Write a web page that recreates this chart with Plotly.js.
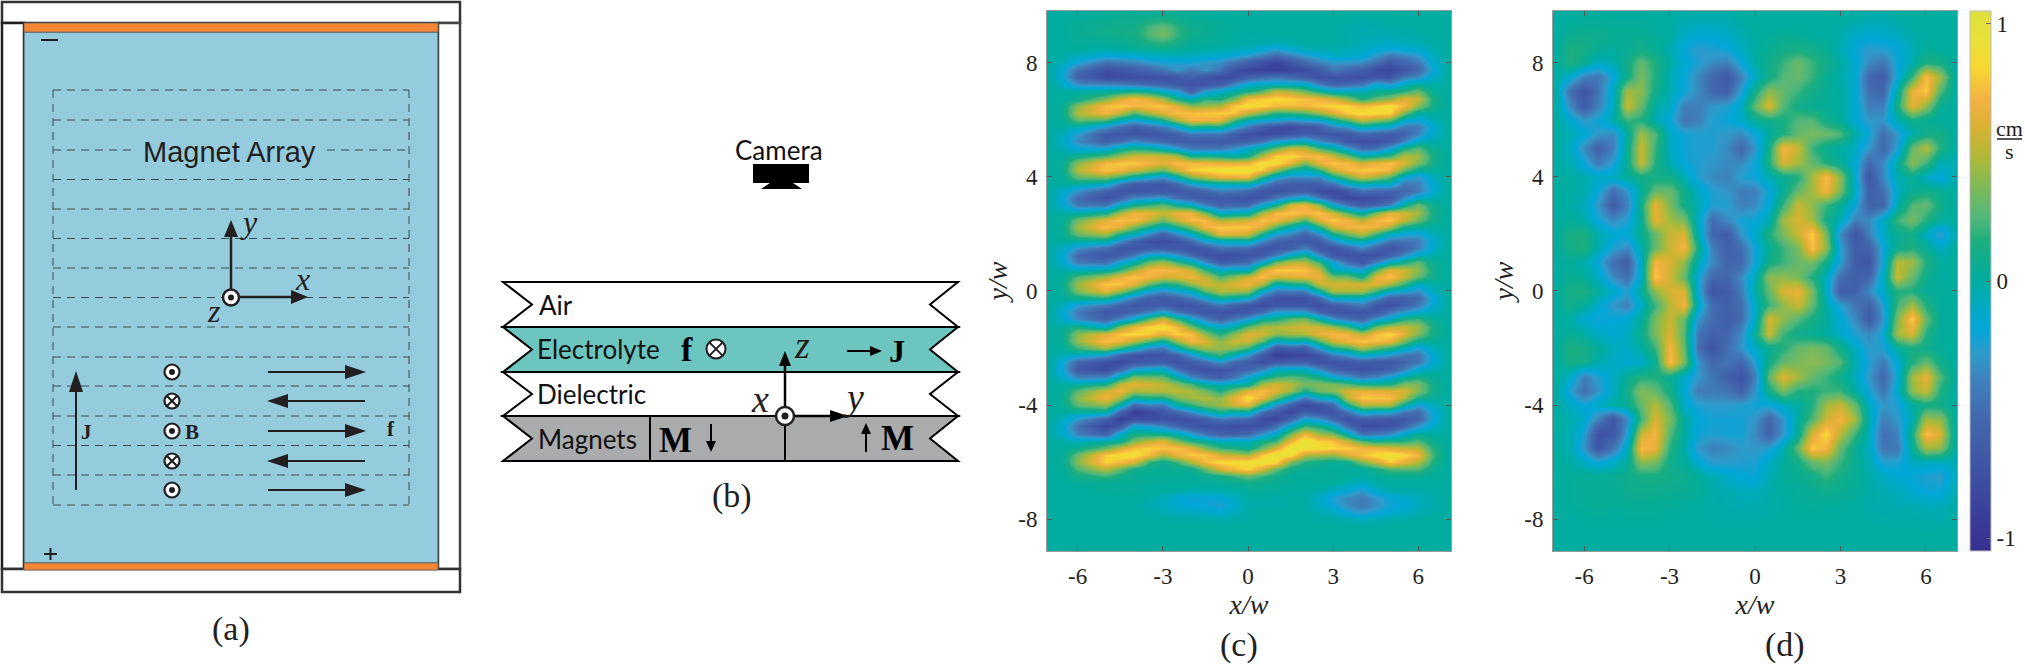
<!DOCTYPE html>
<html><head><meta charset="utf-8">
<script src="https://cdn.plot.ly/plotly-3.0.1.min.js"></script>
<style>html,body{margin:0;padding:0;background:#fff}#p{width:2025px;height:667px}</style></head>
<body><div id="p"></div>
<script>
// ---- panel (c): x stations and y rows, columns read top-to-bottom ----
const xC=[-7,-6.5,-6,-5,-4.5,-4,-3.5,-3,-2.5,-2,-1.5,-1,-.5,0,.5,1,1.5,2,2.5,3,3.5,4,4.5,5,5.5,6,6.5,7];
const yC=[9.75,9.5,9.25,9,8.75,8.5,8.25,8,7.75,7.5,7.25,7,6.75,6.5,6.25,6,5.75,5.5,5.25,5,4.75,4.5,4.25,4,3.75,3.5,3.25,3,2.75,2.5,2.25,2,1.75,1.5,1.25,1,.75,.5,.25,0,-.25,-.5,-.75,-1,-1.25,-1.5,-1.75,-2,-2.25,-2.5,-2.75,-3,-3.25,-3.5,-3.75,-4,-4.25,-4.5,-4.75,-5,-5.25,-5.5,-5.75,-6,-6.25,-6.5,-6.75,-7,-7.25,-7.5,-7.75,-8,-8.25,-8.5,-8.75,-9];
const colM70=[0,0,0,0, 0,0,0,0, 0,0,0,0, 0,0,0,0, 0,0,0,0, 0,0,0,0, 0,0,0,0, 0,0,0,0, 0,0,0,0, 0,0,0,0, 0,0,0,0, 0,0,0,0, 0,0,0,0, 0,0,0,0, 0,0,0,0, 0,0,0,0, 0,0,0,0, 0,0,0,0, 0,0,0,0];
const colM65=[0,.01,.01,.01, .01,0,-.02,-.08, -.18,-.2,-.1,0, .01,.05,.06,.03, 0,-.08,-.1,-.06, .01,.05,.06,.03, 0,-.12,-.2,-.15, 0,.04,.05,.04, 0,-.1,-.18,-.15, -.02,.03,.05,.04, .01,-.08,-.15,-.12, .02,.05,.05,.02, -.05,-.2,-.22,-.13, 0,.03,.05,.03, 0,-.08,-.15,-.12, -.02,.01,.03,.04, .02,.01,0,0, 0,0,0,0, 0,0,0,0];
const colM60=[.02,.03,.05,.05, .03,0,-.08,-.25, -.49,-.59,-.35,0, .08,.4,.49,.29, -.05,-.28,-.35,-.2, .08,.4,.5,.3, 0,-.32,-.54,-.44, 0,.32,.45,.32, 0,-.32,-.54,-.44, -.07,.26,.45,.36, .07,-.26,-.44,-.36, .14,.4,.43,.2, -.11,-.57,-.69,-.41, 0,.28,.4,.28, 0,-.29,-.5,-.4, -.08,.06,.32,.4, .24,.1,.03,0, 0,0,0,0, 0,0,0,0];
const colM50=[.03,.05,.08,.08, .03,-.03,-.2,-.5, -.76,-.81,-.38,0, .36,.76,.71,.25, -.32,-.66,-.62,-.22, .25,.73,.78,.37, -.12,-.6,-.74,-.44, .12,.63,.77,.46, 0,-.5,-.72,-.5, 0,.47,.79,.65, .13,-.41,-.69,-.57, -.11,.63,.77,.46, -.26,-.76,-.81,-.38, .11,.57,.69,.41, 0,-.6,-.85,-.6, 0,.3,.8,.83, .5,.2,.03,.03, 0,0,0,0, 0,0,0,0];
const colM45=[.04,.07,.1,.1, .05,0,-.18,-.45, -.71,-.8,-.42,.05, .6,.8,.52,-.05, -.51,-.72,-.51,0, .42,.79,.7,.2, -.44,-.74,-.6,-.12, .46,.77,.63,.12, -.33,-.7,-.65,-.2, .18,.68,.78,.43, -.16,-.59,-.68,-.37, .4,.79,.71,.2, -.58,-.82,-.58,0, .51,.68,.44,0, -.6,-.9,-.68,-.1, .05,.55,.89,.73, .3,.1,.03,.02, 0,0,0,0, 0,0,0,0];
const colM40=[.05,.08,.1,.12, .08,.02,-.15,-.4, -.65,-.79,-.46,.1, .74,.7,.25,-.2, -.65,-.71,-.35,.1, .57,.8,.57,0, -.66,-.71,-.35,.1, .69,.75,.35,-.05, -.6,-.74,-.44,0, .47,.78,.65,.12, -.42,-.69,-.57,-.1, .68,.84,.5,-.05, -.74,-.7,-.25,.35, .65,.46,.02,-.55, -.94,-.77,-.15,.1, .35,.75,.9,.6, .1,.05,.03,.03, 0,0,0,0, 0,0,0,0];
const colM35=[.05,.12,.22,.25, .15,.04,-.12,-.32, -.55,-.78,-.55,.05, .63,.77,.46,-.08, -.54,-.72,-.47,.05, .58,.71,.43,-.15, -.68,-.69,-.3,.2, .66,.54,.1,-.35, -.76,-.65,-.15,.3, .72,.72,.3,-.2, -.6,-.7,-.4,.3, .84,.8,.27,-.35, -.75,-.65,-.17,.33, .59,.49,.1,-.4, -.83,-.78,-.25,.1, .53,.82,.73,.2, .05,.03,.02,0, -.03,-.05,-.02,0, 0,0,0,0];
const colM30=[.05,.15,.3,.35, .2,.05,-.08,-.25, -.45,-.74,-.6,-.12, .45,.77,.62,.12, -.42,-.69,-.55,-.1, .57,.62,.3,-.3, -.71,-.67,-.25,.3, .54,.33,-.1,-.62, -.79,-.64,-.15,.45, .74,.58,.1,-.35, -.68,-.64,-.2,.6, .9,.64,.05,-.45, -.74,-.6,-.12,.3, .53,.49,.1,-.45, -.71,-.76,-.36,.08, .63,.77,.45,.05, .04,.03,.02,0, -.08,-.1,-.05,0, 0,0,0,0];
const colM25=[.04,.1,.18,.2, .12,.03,-.08,-.25, -.3,-.7,-.69,-.27, .13,.63,.77,.45, -.22,-.6,-.64,-.28, .49,.75,.56,0, -.54,-.72,-.48,.08, .67,.55,.1,-.35, -.74,-.69,-.3,.2, .7,.6,.16,-.2, -.59,-.73,-.45,.2, .74,.82,.43,-.05, -.6,-.75,-.5,0, .39,.52,.34,0, -.55,-.79,-.56,0, .35,.77,.68,.2, .05,.03,.02,-.02, -.15,-.14,-.08,-.02, 0,0,0,0];
const colM20=[.03,.05,.08,.08, .03,0,-.08,-.25, -.45,-.6,-.74,-.6, -.05,.4,.75,.7, .1,-.45,-.65,-.45, .1,.73,.8,.35, -.25,-.66,-.62,-.05, .69,.75,.35,-.1, -.53,-.75,-.53,0, .56,.69,.41,-.1, -.44,-.74,-.6,-.12, .35,.76,.71,.25, -.3,-.66,-.71,-.35, .23,.47,.44,.15, -.35,-.74,-.7,-.23, .15,.65,.79,.47, .05,.03,.02,-.05, -.22,-.18,-.1,-.02, 0,0,0,0];
const colM15=[.02,.04,.06,.06, .03,-.01,-.12,-.3, -.32,-.72,-.72,-.28, .18,.43,.78,.68, .03,-.46,-.65,-.46, .13,.7,.86,.5, -.1,-.57,-.69,-.41, .36,.75,.7,.2, -.22,-.69,-.74,-.35, .2,.55,.59,.28, -.2,-.63,-.73,-.4, .05,.4,.62,.44, 0,-.53,-.75,-.53, 0,.34,.48,.34, -.12,-.62,-.76,-.46, .05,.37,.78,.73, .3,.06,.02,-.04, -.2,-.2,-.12,-.02, 0,0,0,0];
const colM10=[0,.02,.03,.03, .02,-.02,-.15,-.35, -.47,-.79,-.65,-.13, .13,.49,.81,.66, .08,-.46,-.65,-.46, .1,.65,.92,.65, -.05,-.41,-.69,-.57, -.1,.47,.79,.65, -.12,-.47,-.79,-.65, -.1,.25,.52,.49, .07,-.44,-.74,-.6, -.12,.14,.4,.43, .2,-.3,-.71,-.66, -.1,.14,.4,.43, .1,-.44,-.74,-.6, -.1,.2,.6,.85, .6,.1,.03,-.05, -.2,-.25,-.15,-.03, 0,0,0,0];
const colM05=[0,.01,.01,0, 0,-.05,-.22,-.5, -.73,-.78,-.37,0, .34,.79,.78,.25, -.22,-.64,-.68,-.32, 0,.66,.94,.66, -.05,-.46,-.71,-.55, -.05,.51,.8,.61, -.06,-.5,-.77,-.6, -.05,.4,.62,.48, 0,-.6,-.74,-.44, 0,.39,.55,.39, -.07,-.54,-.7,-.45, -.03,.36,.66,.57, -.05,-.49,-.77,-.59, -.05,.13,.53,.88, .72,.2,.05,-.02, -.1,-.14,-.08,-.02, 0,0,0,0];
const colP00=[0,0,0,-.02, -.02,-.08,-.3,-.65, -.85,-.6,-.15,.1, .73,.89,.53,-.05, -.45,-.77,-.63,-.15, .1,.67,.95,.67, -.02,-.53,-.75,-.53, 0,.57,.8,.57, 0,-.53,-.75,-.53, -.1,.58,.71,.43, -.1,-.71,-.67,-.25, .3,.62,.58,.2, -.3,-.62,-.58,-.2, 0,.64,.9,.64, 0,-.55,-.78,-.55, -.1,.05,.45,.9, .85,.3,.08,.02, 0,-.03,-.02,0, 0,0,0,0];
const colP05=[0,0,0,-.01, -.03,-.15,-.42,-.77, -.87,-.52,-.1,.25, .81,.83,.34,-.15, -.66,-.81,-.48,.05, .48,.91,.8,.2, -.34,-.71,-.67,-.2, .46,.78,.64,.12, -.34,-.7,-.66,-.2, .58,.76,.5,-.1, -.58,-.78,-.52,.05, .47,.57,.3,-.2, -.68,-.78,-.41,.03, .45,.76,.67,.15, -.5,-.8,-.73,-.3, .1,.3,.79,.97, .6,.2,.06,.02, -.01,-.02,0,0, 0,0,0,0];
const colP10=[0,0,0,0, -.05,-.25,-.55,-.88, -.9,-.45,-.1,.52, .87,.71,.15,-.2, -.81,-.76,-.25,.28, .83,.88,.42,-.2, -.6,-.74,-.44,.1, .74,.69,.25,-.25, -.58,-.71,-.43,.3, .8,.56,-.05,-.42, -.76,-.71,-.25,.12, .49,.4,-.12,-.7, -.92,-.65,-.1,.2, .58,.62,.3,-.3, -.69,-.84,-.5,-.1, .2,.6,.99,.85, .3,.08,.05,.02, -.02,-.03,0,0, 0,0,0,0];
const colP15=[0,0,0,0, -.03,-.15,-.42,-.72, -.86,-.55,-.1,.45, .82,.72,.18,-.3, -.8,-.69,-.18,.55, .85,.65,.08,-.35, -.64,-.68,-.22,.6, .78,.51,-.05,-.38, -.69,-.6,-.1,.5, .79,.61,.08,-.42, -.77,-.71,-.25,.3, .54,.44,0,-.62, -.88,-.62,-.1,.27, .49,.42,-.1,-.65, -.85,-.55,-.1,.35, .7,.98,.89,.35, .08,.03,.02,0, 0,0,0,0, 0,0,0,0];
const colP20=[0,0,0,0, 0,-.05,-.3,-.55, -.8,-.65,-.12,.3, .76,.71,.25,-.2, -.77,-.62,-.1,.5, .74,.35,-.1,-.3, -.67,-.62,-.1,.7, .71,.25,-.25,-.57, -.69,-.41,.1,.5, .77,.63,.12,-.4, -.76,-.71,-.25,.35, .59,.48,-.1,-.65, -.85,-.6,-.1,.2, .35,.12,-.45,-.85, -.6,-.2,.2,.7, .97,.93,.5,.15, .05,.02,0,0, 0,0,0,0, 0,0,0,0];
const colP25=[0,0,0,0, 0,-.04,-.2,-.42, -.67,-.76,-.41,.1, .7,.79,.42,-.2, -.65,-.7,-.34,.2, .76,.66,.15,-.35, -.62,-.77,-.4,.4, .79,.64,.12,-.35, -.66,-.7,-.34,.2, .56,.68,.56,.05, -.55,-.78,-.55,.05, .58,.66,.25,-.25, -.71,-.76,-.36,.1, .37,.32,-.15,-.74, -.73,-.3,.1,.45, .82,.9,.45,.08, .03,.03,.02,-.03, -.12,-.1,-.04,-.01, 0,0,0,0];
const colP30=[0,0,0,0, 0,-.03,-.12,-.3, -.45,-.75,-.6,-.1, .6,.85,.6,.05, -.4,-.7,-.5,.05, .55,.78,.55,.05, -.5,-.84,-.67,-.15, .57,.8,.57,.1, -.35,-.74,-.7,-.2, -.05,.35,.59,.48, -.1,-.66,-.71,-.3, .45,.74,.57,.1, -.44,-.74,-.6,-.15, .35,.38,-.1,-.55, -.75,-.53,-.1,.35, .76,.83,.4,.05, .02,.03,.02,-.1, -.25,-.2,-.08,-.02, 0,0,0,0];
const colP35=[0,-.01,-.03,-.03, -.03,-.06,-.12,-.33, -.55,-.76,-.54,-.08, .4,.84,.8,.27, -.3,-.68,-.7,-.27, .33,.73,.73,.3, -.18,-.7,-.82,-.45, .28,.7,.7,.3, -.07,-.6,-.77,-.5, -.1,.35,.59,.48, -.1,-.57,-.74,-.47, .25,.72,.7,.2, -.3,-.7,-.7,-.28, .25,.6,.49,.08, -.5,-.78,-.52,0, .53,.82,.6,.06, .01,.01,-.04,-.18, -.36,-.34,-.2,-.05, 0,0,0,0];
const colP40=[0,-.02,-.05,-.05, -.05,-.1,-.15,-.35, -.63,-.77,-.46,-.05, .14,.73,.89,.53, -.05,-.55,-.78,-.55, .02,.57,.8,.57, -.03,-.48,-.81,-.65, 0,.51,.72,.51, -.03,-.35,-.74,-.7, -.2,.1,.59,.48, -.1,-.42,-.71,-.58, -.1,.5,.79,.47, -.1,-.63,-.77,-.46, .12,.65,.79,.47, -.1,-.65,-.79,-.5, .25,.7,.76,.35, 0,0,-.1,-.3, -.42,-.45,-.3,-.08, 0,0,0,0];
const colP45=[0,-.01,-.03,-.05, -.08,-.15,-.3,-.52, -.8,-.7,-.18,.03, .3,.82,.87,.4, -.12,-.6,-.74,-.5, .1,.68,.78,.43, -.1,-.55,-.77,-.55, .35,.72,.68,.2, -.2,-.6,-.75,-.4, .25,.65,.63,.2, -.3,-.7,-.69,-.28, .32,.76,.75,.3, -.2,-.67,-.71,-.35, .1,.64,.78,.47, -.18,-.68,-.78,-.42, .1,.67,.88,.56, .1,.02,-.02,-.12, -.3,-.33,-.22,-.05, 0,0,0,0];
const colP50=[0,0,-.02,-.05, -.1,-.2,-.45,-.7, -.84,-.7,-.3,.05, .4,.9,.85,.3, -.2,-.65,-.68,-.25, .2,.76,.71,.25, -.1,-.58,-.71,-.4, .65,.79,.47,-.1, -.45,-.74,-.6,-.1, .63,.77,.47,-.1, -.63,-.77,-.45,-.1, .5,.84,.69,.15, -.3,-.68,-.64,-.2, .12,.63,.77,.46, -.2,-.71,-.76,-.36, .15,.6,.94,.8, .25,.05,0,-.05, -.2,-.22,-.15,-.03, 0,0,0,0];
const colP55=[0,0,-.01,-.03, -.07,-.15,-.38,-.58, -.7,-.42,-.08,.15, .64,.73,.35,-.1, -.45,-.6,-.39,.1, .5,.61,.3,-.15, -.46,-.57,-.35,.05, .59,.55,.1,-.2, -.48,-.59,-.35,.1, .57,.53,.2,-.2, -.6,-.61,-.27,.15, .55,.63,.35,-.05, -.45,-.6,-.4,0, .35,.6,.48,.05, -.45,-.7,-.55,-.1, .15,.55,.85,.65, .25,.05,0,-.04, -.14,-.15,-.1,-.02, 0,0,0,0];
const colP60=[0,0,0,-.02, -.05,-.12,-.3,-.45, -.55,-.33,0,.3, .55,.39,0,-.2, -.44,-.36,-.1,.25, .44,.36,.05,-.3, -.4,-.43,-.1,.33, .45,.32,.02,-.25, -.43,-.4,-.1,.28, .4,.28,-.1,-.33, -.54,-.45,-.15,.2, .44,.36,.07,-.25, -.47,-.45,-.15,.12, .35,.38,.1,-.25, -.53,-.57,-.3,.02, .25,.5,.7,.5, .25,.05,0,-.03, -.08,-.08,-.05,0, 0,0,0,0];
const colP65=[0,0,0,0, -.02,-.04,-.08,-.15, -.2,-.12,-.02,.03, .12,.1,0,-.05, -.15,-.12,-.03,.06, .12,.1,.02,-.08, -.14,-.15,-.03,.08, .12,.08,0,-.06, -.14,-.12,-.03,.05, .1,.07,-.02,-.08, -.18,-.15,-.05,.04, .12,.1,.02,-.06, -.15,-.15,-.05,.03, .1,.1,.03,-.08, -.18,-.2,-.1,0, .06,.15,.22,.15, .06,.02,0,-.01, -.03,-.03,-.02,0, 0,0,0,0];
const colP70=[0,0,0,0, 0,0,0,0, 0,0,0,0, 0,0,0,0, 0,0,0,0, 0,0,0,0, 0,0,0,0, 0,0,0,0, 0,0,0,0, 0,0,0,0, 0,0,0,0, 0,0,0,0, 0,0,0,0, 0,0,0,0, 0,0,0,0, 0,0,0,0, 0,0,0,0, 0,0,0,0, 0,0,0,0];
const zC=[colM70,colM65,colM60,colM50,colM45,colM40,colM35,colM30,colM25,colM20,colM15,colM10,colM05,colP00,colP05,colP10,colP15,colP20,colP25,colP30,colP35,colP40,colP45,colP50,colP55,colP60,colP65,colP70];

// ---- panel (d): rows read left-to-right ----
const xD=[-7,-6.5,-6,-5.5,-5,-4.5,-4,-3.5,-3,-2.5,-2,-1.5,-1,-.5,0,.5,1,1.5,2,2.5,3,3.5,4,4.5,5,5.5,6,6.5,7];
const yD=[10,9.5,9,8.5,8,7.5,7,6.5,6,5.5,5,4.5,4,3.5,3,2.5,2,1.5,1,.5,0,-.5,-1,-1.5,-2,-2.5,-3,-3.5,-4,-4.5,-5,-5.5,-6,-6.5,-7,-7.5,-8,-8.5,-9,-9.5];
const zD=[
[0,0,0,0,0,0,0,0,0,0,0,0,0,0,0,0,0,0,0,0,0,0,0,0,0,0,0,0,0],
[0,0,.02,.02,.02,.02,.02,0,0,-.05,-.05,-.05,-.05,0,0,0,0,0,0,0,0,-.02,-.05,-.05,-.02,0,0,0,0],
[0,.05,.08,.08,.05,.05,.05,.02,0,-.1,-.15,-.15,-.1,-.05,0,.02,.03,.03,0,0,-.03,-.1,-.15,-.12,-.08,-.03,0,0,0],
[0,.15,.12,.05,.02,.05,.1,.05,-.05,-.2,-.28,-.25,-.2,-.1,0,.05,.1,.12,.1,.05,-.05,-.2,-.28,-.25,-.2,-.05,.03,0,0],
[0,.15,.05,-.1,-.05,.1,.3,.15,-.02,-.15,-.25,-.35,-.4,-.2,0,.1,.2,.32,.2,.1,0,-.15,-.35,-.45,-.2,-.05,.15,.12,0],
[0,-.15,-.4,-.45,-.2,.1,.35,.15,-.05,-.2,-.35,-.55,-.68,-.4,-.1,.1,.25,.3,.2,.05,-.02,-.15,-.55,-.62,-.2,.2,.75,.45,.02],
[0,-.5,-.72,-.45,-.1,.45,.4,.1,-.05,-.2,-.35,-.55,-.6,-.25,.1,.4,.3,.2,.1,.05,0,-.15,-.5,-.55,0,.65,.8,.25,0],
[0,-.35,-.65,-.4,-.1,.55,.3,0,-.1,-.4,-.4,-.3,-.25,-.1,.3,.6,.25,.1,.05,.03,0,-.15,-.4,-.4,.1,.65,.4,.05,0],
[0,-.15,-.3,-.2,-.02,.2,.15,-.03,-.2,-.45,-.4,-.25,-.2,-.12,.05,.1,.12,.25,.25,.1,.02,-.15,-.3,-.3,-.05,.1,.05,0,0],
[0,-.05,-.15,-.3,-.35,0,.45,.25,-.1,-.22,-.25,-.25,-.3,-.35,-.2,0,.15,.3,.35,.32,.25,-.02,-.2,-.5,-.3,-.03,.1,.12,0],
[0,-.1,-.35,-.6,-.4,.05,.55,.2,-.1,-.22,-.25,-.25,-.35,-.55,-.3,.1,.7,.55,.2,.05,0,-.1,-.3,-.55,-.25,.3,.5,.15,0],
[0,-.05,-.2,-.42,-.25,.05,.55,.15,-.05,-.2,-.25,-.3,-.35,-.35,-.2,.15,.6,.45,.3,.15,.05,-.15,-.55,-.35,0,.4,.2,-.05,-.05],
[0,0,-.03,-.1,-.08,.02,.1,.1,.1,-.05,-.25,-.35,-.4,-.25,-.2,-.05,.05,.15,.45,.75,.4,-.15,-.7,-.35,-.05,.05,-.1,-.2,-.05],
[0,0,-.03,-.2,-.5,-.3,.02,.3,.3,.1,-.1,-.25,-.3,-.42,-.4,-.2,.05,.3,.45,.7,.35,-.1,-.6,-.5,-.1,.05,.1,.05,0],
[0,-.02,-.08,-.3,-.65,-.4,.1,.65,.35,.1,-.05,-.25,-.25,-.4,-.35,-.15,.2,.55,.4,.2,.05,-.2,-.6,-.55,-.05,.25,.3,.1,0],
[0,.03,-.03,-.2,-.35,-.25,.05,.65,.45,.35,-.1,-.5,-.35,-.22,-.2,-.05,.45,.6,.45,.1,-.05,-.4,-.35,-.1,.2,.35,.15,.02,0],
[.02,.12,.15,-.03,-.15,-.15,.05,.3,.55,.6,-.05,-.55,-.65,-.3,-.12,.15,.35,.55,.8,.35,-.35,-.72,-.4,-.1,.05,.1,-.1,-.3,-.05],
[.02,.12,.15,-.03,-.25,-.35,-.02,.3,.55,.72,.1,-.4,-.62,-.5,-.2,.05,.2,.35,.75,.4,-.25,-.62,-.6,-.2,.08,.15,.05,-.1,0],
[0,.03,-.03,-.2,-.5,-.62,-.1,.7,.6,.4,-.05,-.35,-.55,-.55,-.2,.1,.2,.3,.35,.1,-.25,-.65,-.7,-.2,.5,.45,.15,.02,0],
[0,.05,.03,-.1,-.35,-.5,-.1,.8,.55,.3,-.2,-.55,-.55,-.35,-.05,.4,.4,.35,.15,-.08,-.5,-.62,-.55,-.1,.55,.3,.08,0,0],
[0,.12,.15,.02,-.12,-.25,.02,.4,.6,.6,-.2,-.7,-.65,-.4,0,.3,.6,.65,.35,-.1,-.65,-.6,-.35,-.1,.15,.15,.03,.02,0],
[0,.1,.03,-.12,-.3,-.4,-.1,.2,.5,.7,-.1,-.5,-.6,-.5,-.1,.2,.4,.55,.3,-.02,-.25,-.45,-.6,-.25,.2,.45,.15,.02,0],
[0,-.02,-.15,-.22,-.18,-.15,.02,.35,.55,.3,-.3,-.5,-.65,-.5,-.1,.6,.4,.25,.12,.02,-.15,-.35,-.65,-.3,.35,.8,.3,.03,0],
[0,.05,0,-.1,-.15,-.1,.08,.35,.6,.25,-.45,-.6,-.55,-.35,.05,.55,.2,.08,.05,0,-.12,-.25,-.35,-.2,.45,.6,.15,.02,0],
[0,.15,.12,.02,-.08,-.1,-.02,.2,.7,.3,-.5,-.72,-.5,-.3,-.1,.05,.15,.3,.35,.3,.1,-.1,-.28,-.25,.02,.12,.08,.03,0],
[0,.12,.1,-.03,-.1,-.15,-.12,.05,.75,.35,-.3,-.55,-.45,-.55,-.25,.1,.3,.35,.4,.35,.25,-.05,-.25,-.42,-.15,.15,.3,.1,0],
[0,-.1,-.4,-.25,-.1,.05,.15,.15,.05,-.12,-.3,-.45,-.6,-.75,-.4,.3,.62,.45,.3,.2,.08,-.08,-.3,-.55,-.2,.45,.65,.25,.02],
[0,-.25,-.5,-.3,-.1,.1,.38,.3,.1,-.15,-.42,-.42,-.45,-.6,-.3,.1,.35,.15,.15,.2,.2,0,-.22,-.45,-.15,.4,.55,.15,0],
[0,-.1,-.2,-.1,.0,.05,.3,.5,.25,-.12,-.25,-.28,-.28,-.25,-.22,-.2,-.1,0,.15,.45,.55,.3,-.1,-.3,-.25,0,.1,.1,0],
[0,-.03,-.12,-.4,-.7,-.35,.2,.6,.35,.02,-.18,-.22,-.22,-.22,-.3,-.55,-.3,0,.25,.55,.7,.45,-.05,-.4,-.3,-.05,.45,.4,.02],
[0,-.05,-.25,-.75,-.7,-.25,.55,.7,.25,0,-.2,-.25,-.22,-.22,-.35,-.6,-.3,.05,.6,.85,.5,.2,-.08,-.5,-.4,.1,.75,.6,.03],
[0,-.05,-.3,-.7,-.45,-.1,.75,.65,.15,-.02,-.3,-.4,-.35,-.28,-.3,-.25,-.05,.3,.8,.7,.3,.05,-.1,-.45,-.45,.05,.45,.4,.02],
[0,0,-.1,-.2,-.1,.02,.4,.35,.08,.03,-.15,-.28,-.28,-.25,-.25,-.1,.02,.1,.3,.35,.2,.05,-.05,-.25,-.25,-.1,-.08,-.1,-.05],
[0,.03,.05,.03,.05,.08,.12,.12,.1,.08,.03,-.05,-.12,-.18,-.2,-.05,.03,.05,.1,.2,.1,.05,-.02,-.1,-.15,-.2,-.25,-.28,-.1],
[0,.02,.05,.05,.05,.07,.08,.08,.06,.05,.03,-.02,-.05,-.08,-.08,-.03,0,.03,.05,.08,.06,.03,-.02,-.05,-.08,-.15,-.2,-.2,-.05],
[0,.02,.03,.05,.03,.04,.05,.04,.03,.02,0,-.02,-.03,-.05,-.05,-.02,0,.02,.03,.02,.02,0,-.03,-.03,-.05,-.05,-.08,-.08,-.02],
[0,0,.01,.02,.01,.02,.02,.02,.01,0,0,-.01,-.02,-.02,-.02,-.01,0,0,.01,0,0,0,-.01,-.02,-.02,-.02,-.03,-.03,0],
[0,0,0,0,0,0,0,0,0,0,0,0,0,0,0,0,0,0,0,0,0,0,0,0,0,0,0,0,0],
[0,0,0,0,0,0,0,0,0,0,0,0,0,0,0,0,0,0,0,0,0,0,0,0,0,0,0,0,0],
[0,0,0,0,0,0,0,0,0,0,0,0,0,0,0,0,0,0,0,0,0,0,0,0,0,0,0,0,0]];

const xTickVals=[-6,-3,0,3,6], xTickText=['-6','-3','0','3','6'];
const yTickVals=[-8,-4,0,4,8], yTickText=['-8','-4','0','4','8'];
const cbTickVals=[-1,0,1], cbTickText=['-1','0','1'];
// colour ramp: value, colour
const rampVals=[-1.05,-.887,-.718,-.535,-.394,-.282,-.183,-.085,0,.155,.239,.352,.479,.606,.704,.83,.944,1.05];
const rampCols=['#382F90','#3A419A','#3F55A5','#4268AE','#3F80BB','#2E9BCB','#00A7D8','#00ABBE','#00ADA0','#1DAE7D','#4EB67B','#79B95C','#AEB938','#DDB133','#F4B242','#F7D733','#E8E238','#DFE03C'];
const colorscale=rampVals.map((v,i)=>[(v+1.05)/2.1,rampCols[i]]);

const W=2025,H=667,SERIF='"Liberation Serif",serif',SANS='Lato,sans-serif';
const X=p=>p/W, Y=p=>1-p/H;
const shapes=[],annotations=[];
function line(x1,y1,x2,y2,color,width,dash){shapes.push({type:'line',xref:'paper',yref:'paper',x0:X(x1),y0:Y(y1),x1:X(x2),y1:Y(y2),line:{color:color||'#000',width:width||1,dash:dash||'solid'}});}
function rect(x1,y1,x2,y2,fill,lc,lw){shapes.push({type:'rect',xref:'paper',yref:'paper',x0:X(x1),y0:Y(y1),x1:X(x2),y1:Y(y2),fillcolor:fill,line:{color:lc||fill,width:lw===undefined?0:lw}});}
function poly(pts,fill,lc,lw){shapes.push({type:'path',xref:'paper',yref:'paper',path:'M'+pts.map(p=>X(p[0])+','+Y(p[1])).join('L')+'Z',fillcolor:fill,line:{color:lc||fill,width:lw||0}});}
function circ(cx,cy,r,fill,lc,lw){shapes.push({type:'circle',xref:'paper',yref:'paper',x0:X(cx-r),x1:X(cx+r),y0:Y(cy+r),y1:Y(cy-r),fillcolor:fill,line:{color:lc||fill,width:lw||0}});}
function arrow(x1,y1,x2,y2,w,hl,hw,col){const c=col||'#231f20',dx=x2-x1,dy=y2-y1,L=Math.hypot(dx,dy),ux=dx/L,uy=dy/L,bx=x2-ux*hl,by=y2-uy*hl;line(x1,y1,bx,by,c,w);poly([[x2,y2],[bx-uy*hw,by+ux*hw],[bx+uy*hw,by-ux*hw]],c);}
function odot(cx,cy,r,lw,dr){circ(cx,cy,r,'#fff','#231f20',lw);circ(cx,cy,dr,'#231f20');}
function ocross(cx,cy,r,lw){circ(cx,cy,r,'#fff','#231f20',lw);const k=r*.7;line(cx-k,cy-k,cx+k,cy+k,'#231f20',lw);line(cx-k,cy+k,cx+k,cy-k,'#231f20',lw);}
function txt(x,y,t,size,font,anchor,color){annotations.push({xref:'paper',yref:'paper',x:X(x),y:Y(y),text:t,showarrow:false,xanchor:anchor||'center',yanchor:'middle',borderpad:0,font:{size:size,family:font||SERIF,color:color||'#231f20'}});}

// ---- (a) cell sketch ----
rect(2,2,460,23,'#fff','#333',2.5);
rect(2,23,24,569,'#fff','#231f20',2.5);
rect(438,23,460,569,'#fff','#444',2.5);
rect(2,569,460,592,'#fff','#333',2.5);
rect(24,32,438,563,'#94CBDD','#444',1);
rect(24,23,438,32,'#F58634','#666',.8);
rect(24,563,438,570,'#F58634','#666',.8);
line(41,40,58,40,'#231f20',2);
line(44,554,57,554,'#231f20',2);line(50.5,548,50.5,560,'#231f20',2);
const DASH='8px,6px',DC='#3c4a52';
const stripeYs=[90,120,150,179.5,209,238.5,268,297.5,327,357,386,416,445.5,475,505];
stripeYs.forEach(y=>{if(y===150){line(53,y,135,y,DC,1,DASH);line(327,y,409,y,DC,1,DASH);}else line(53,y,409,y,DC,1,DASH);});
line(53,90,53,505,DC,1,DASH);line(409,90,409,505,DC,1,DASH);
txt(229,152,'Magnet Array',29,'"Liberation Sans",sans-serif');
arrow(231,297,231,220,2.5,17,7);arrow(231,297,308,297,2.5,17,7);
odot(231,297.5,8,2.5,3);
txt(249,222,'<i>y</i>',32);txt(302,279,'<i>x</i>',32);txt(214,311,'<i>z</i>',32);
arrow(76,490,76,371,2,21,7);
txt(86,432,'<b>J</b>',21);txt(192,432,'<b>B</b>',21);txt(391,429,'<b>f</b>',21);
[[372,1],[401,0],[431,1],[461,0],[490,1]].forEach(([y,d])=>{
  if(d){odot(172,y,7.5,2.2,3);arrow(268,y,366,y,2,21,7);}
  else{ocross(172,y,7.5,2.2);arrow(365,y,267,y,2,21,7);}
});
txt(231,629,'(a)',34);

// ---- (b) layer sketch ----
function layer(y1,y2,fill){const m=(y1+y2)/2;poly([[503,y1],[958,y1],[930,m],[958,y2],[503,y2],[532,m]],fill,'#000',2);}
layer(282,327,'#fff');layer(372,416,'#fff');layer(327,372,'#6DC5BF');layer(416,461,'#AAABAD');
line(650,416,650,461,'#000',2);line(785,416,785,461,'#000',2);
txt(538,305,'Air',26,SANS,'left','#111');
txt(536,349,'Electrolyte',26,SANS,'left','#111');
txt(536,394,'Dielectric',26,SANS,'left','#111');
txt(537,439,'Magnets',26,SANS,'left','#111');
txt(687,349,'<b>f</b>',34,SERIF,'center','#000');
ocross(716,349,9.5,2);
arrow(785,416,785,351,2.5,15,6,'#000');arrow(785,416,848,416,2.5,18,6,'#000');
odot(785,416,9,2.5,3.5);
txt(802,345,'<i>z</i>',38);txt(853,397,'<i>y</i>',38);txt(760,399,'<i>x</i>',38);
arrow(847,351,882,351,2,12,5,'#000');txt(897,351,'<b>J</b>',32,SERIF,'center','#000');
arrow(866,452,866,423,2,11,5,'#000');txt(897,438,'<b>M</b>',35,SERIF,'center','#000');
arrow(711,424,711,452,2,11,5,'#000');txt(675,440,'<b>M</b>',35,SERIF,'center','#000');
txt(779,150,'Camera',26,SANS,'center','#111');
rect(753,164,809,183,'#000');
poly([[770,183],[793,183],[802,189],[761,189]],'#000');
txt(732,496,'(b)',34);

// ---- panel letters and colour-bar unit ----
txt(1239,645,'(c)',34);txt(1785,645,'(d)',34);
txt(2009,128,'cm',22);line(1997,139,2022,139,'#231f20',1.5);txt(2009,152,'s',22);

const tickFont={family:SERIF,size:23,color:'#231f20'};
function axis(dom,range,vals,text,title,extra){return Object.assign({domain:dom,range,tickmode:'array',tickvals:vals,ticktext:text,ticks:'inside',ticklen:5,tickcolor:'#555',tickwidth:1,mirror:'allticks',showline:true,linecolor:'#999',linewidth:1,showgrid:false,zeroline:false,tickfont:tickFont,ticklabelstandoff:4,automargin:false,title:{text:title,font:{family:SERIF,size:28,color:'#231f20'},standoff:2},fixedrange:true},extra||{});}

const traces=[
 {type:'heatmap',x:xC,y:yC,z:zC,transpose:true,zsmooth:'best',zmin:-1.05,zmax:1.05,colorscale,showscale:false,xaxis:'x',yaxis:'y',hoverinfo:'skip'},
 {type:'heatmap',x:xD,y:yD,z:zD,zsmooth:'best',zmin:-1.05,zmax:1.05,colorscale,showscale:true,xaxis:'x2',yaxis:'y2',hoverinfo:'skip',
  colorbar:{x:1970/W,xanchor:'left',xpad:0,y:1-11/H,yanchor:'top',ypad:0,len:540/H,lenmode:'fraction',thickness:21,thicknessmode:'pixels',tickmode:'array',tickvals:cbTickVals,ticktext:cbTickText,ticks:'inside',ticklen:5,tickcolor:'#666',tickfont:{family:SERIF,size:23,color:'#231f20'},outlinecolor:'#bbb',outlinewidth:1,ticklabelposition:'outside'}}
];
const layout={width:W,height:H,margin:{l:0,r:0,t:0,b:0,pad:0},paper_bgcolor:'#fff',plot_bgcolor:'#fff',showlegend:false,
 xaxis:axis([1047/W,1451/W],[-7.08,7.15],xTickVals,xTickText,'<i>x/w</i>',{anchor:'y'}),
 yaxis:axis([1-551/H,1-11/H],[-9.12,9.82],yTickVals,yTickText,'<i>y/w</i>',{anchor:'x'}),
 xaxis2:axis([1553/W,1957/W],[-7.09,7.09],xTickVals,xTickText,'<i>x/w</i>',{anchor:'y2'}),
 yaxis2:axis([1-551/H,1-11/H],[-9.12,9.82],yTickVals,yTickText,'<i>y/w</i>',{anchor:'x2'}),
 shapes,annotations};
Plotly.newPlot('p',traces,layout,{displayModeBar:false,staticPlot:true});
</script></body></html>
